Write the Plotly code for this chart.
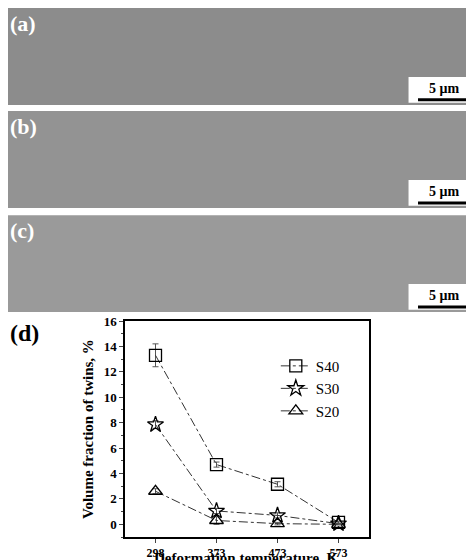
import plotly.graph_objects as go

# deformation temperatures (K) and twin volume fractions (%)
temps = ["298", "373", "473", "573"]
s40 = [13.3, 4.7, 3.15, 0.15]
s40_err = [0.9, 0.2, 0.2, 0.1]
s30 = [7.85, 1.05, 0.7, 0.05]
s30_err = [0.3, 0.2, 0.2, 0.05]
s20 = [2.6, 0.3, 0.05, 0.0]
s20_err = [0.2, 0.3, 0.1, 0.05]

panels = ["(a)", "(b)", "(c)"]
panel_shades = ["#8c8c8c", "#939393", "#9a9a9a"]

FONT = "Liberation Serif"

fig = go.Figure()
for name, y, err, sym in [
    ("S40", s40, s40_err, "square-open"),
    ("S30", s30, s30_err, "star-open"),
    ("S20", s20, s20_err, "triangle-up-open"),
]:
    fig.add_trace(go.Scatter(
        x=temps, y=y, name=name, mode="lines+markers",
        error_y=dict(type="data", array=err, color="#555", thickness=1, width=3),
        line=dict(color="#333", width=1, dash="dashdot"),
        marker=dict(symbol=sym, size=12, color="black", line=dict(width=1.3)),
    ))

# SEM micrograph placeholders (a)-(c)
shapes = []
annotations = []
tops = [1.0, 0.816, 0.630]
for label, shade, top in zip(panels, panel_shades, tops):
    bottom = top - 0.173
    shapes.append(dict(type="rect", xref="paper", yref="paper", x0=0, x1=1,
                       y0=bottom, y1=top, fillcolor=shade, line_width=0))
    shapes.append(dict(type="rect", xref="paper", yref="paper", x0=0.845, x1=0.995,
                       y0=bottom + 0.004, y1=bottom + 0.05, fillcolor="white", line_width=0))
    shapes.append(dict(type="line", xref="paper", yref="paper", x0=0.865, x1=0.975,
                       y0=bottom + 0.009, y1=bottom + 0.009, line=dict(color="black", width=3)))
    annotations.append(dict(text="<b>5 μm</b>", xref="paper", yref="paper", x=0.92,
                            y=bottom + 0.013, xanchor="center", yanchor="bottom",
                            showarrow=False, font=dict(family=FONT, size=14, color="black")))
    annotations.append(dict(text="<b>" + label + "</b>", xref="paper", yref="paper", x=0.0,
                            y=top - 0.002, xanchor="left", yanchor="top", showarrow=False,
                            font=dict(family=FONT, size=22, color="white")))

annotations.append(dict(text="<b>(d)</b>", xref="paper", yref="paper", x=0.0, y=0.447,
                        xanchor="left", yanchor="top", showarrow=False,
                        font=dict(family=FONT, size=24, color="black")))
annotations.append(dict(text="<b>Deformation temperature, K</b>", xref="paper", yref="paper",
                        x=239 / 474, y=0.0, xanchor="center", yanchor="bottom",
                        showarrow=False, font=dict(family=FONT, size=15)))
annotations.append(dict(text="<b>Volume fraction of twins, %</b>", xref="paper", yref="paper",
                        x=80 / 474, y=(560 - 421) / 560, xanchor="center", yanchor="middle",
                        textangle=-90, showarrow=False, font=dict(family=FONT, size=15)))

fig.update_layout(
    width=474, height=560,
    margin=dict(l=0, r=0, t=0, b=0, autoexpand=False),
    paper_bgcolor="white", plot_bgcolor="white",
    font=dict(family=FONT, size=13, color="black"),
    shapes=shapes, annotations=annotations,
    legend=dict(x=0.565, y=0.39, xref="paper", yref="paper", yanchor="top",
                bgcolor="rgba(0,0,0,0)", font=dict(family=FONT, size=15),
                tracegroupgap=0, itemwidth=30),
    xaxis=dict(domain=[117 / 474, 361 / 474], type="category", range=[-0.5, 3.5],
               showline=True, linecolor="black", linewidth=1.5, mirror=True,
               ticks="outside", tickwidth=1.2, ticklen=4, automargin=False,
               tickfont=dict(family=FONT, size=12),
               showgrid=False, tickprefix="<b>", ticksuffix="</b>"),
    yaxis=dict(domain=[31 / 560, 247 / 560], range=[-1, 16], dtick=2,
               showline=True, linecolor="black", linewidth=1.5, mirror=True,
               ticks="outside", tickwidth=1.2, ticklen=4, automargin=False,
               minor=dict(ticks="outside", dtick=1, ticklen=2),
               tickfont=dict(family=FONT, size=13),
               showgrid=False, zeroline=False, tickprefix="<b>", ticksuffix="</b>"),
)

fig.write_html("out.html")
